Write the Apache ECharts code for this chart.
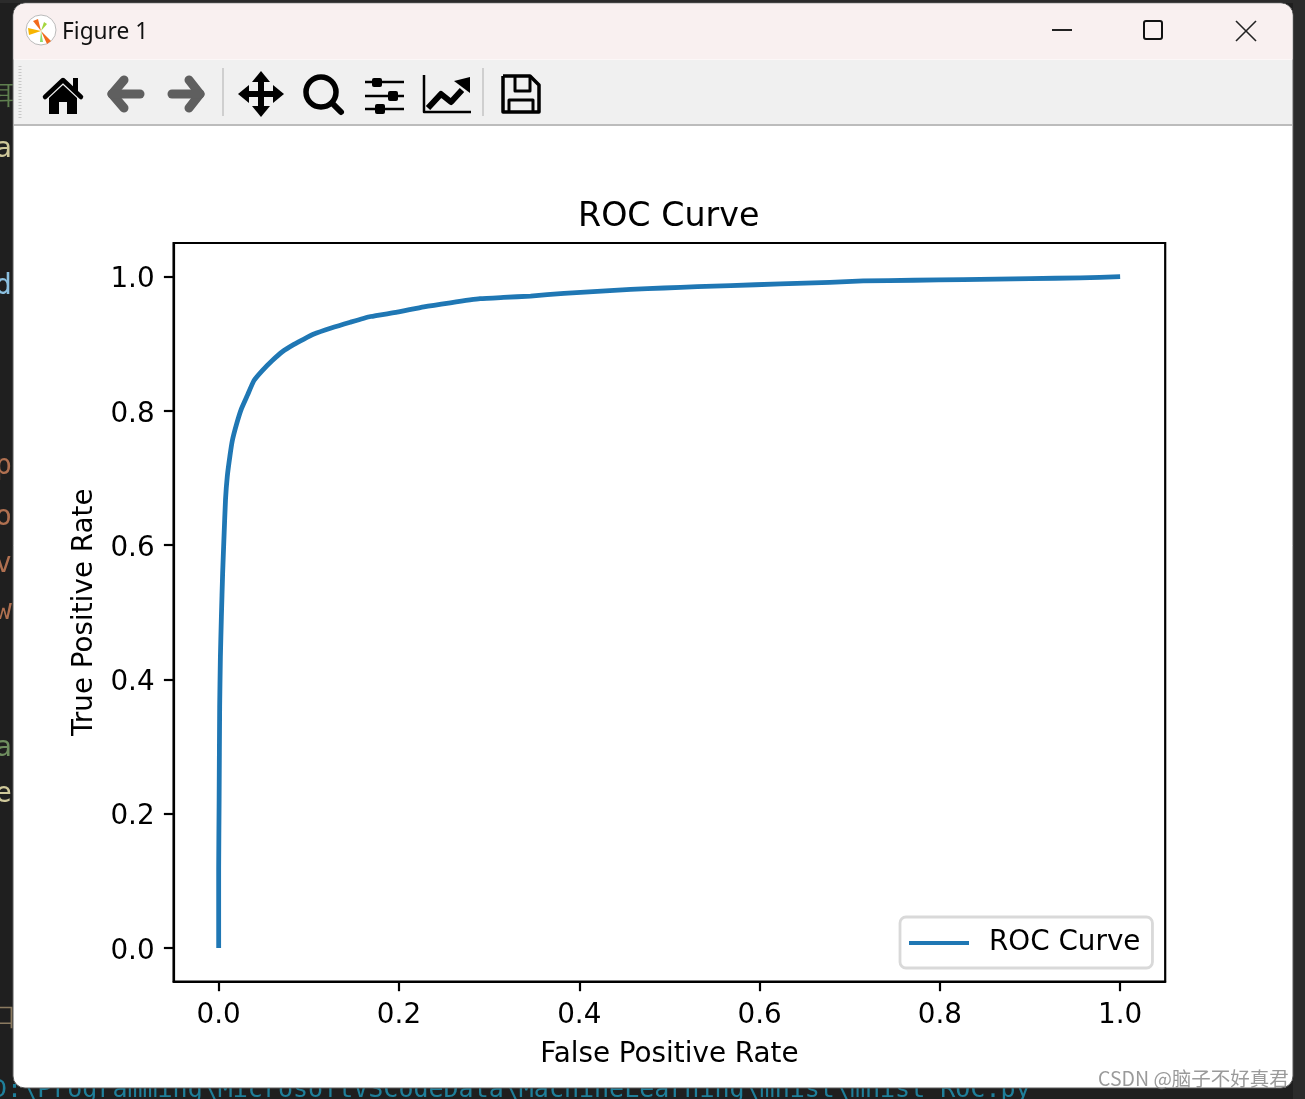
<!DOCTYPE html>
<html>
<head>
<meta charset="UTF-8">
<title>ROC Curve</title>
<script src="https://cdn.jsdelivr.net/npm/echarts@6/dist/echarts.min.js"></script>
</head>
<body style="margin:0;background:#1f1f1f">
<div id="one" style="width:1305px;height:1099px"></div>
<script>
var fpr = [0, 0, 0.0005, 0.0011, 0.0019, 0.003, 0.0044, 0.0059, 0.0076, 0.0096, 0.0125, 0.0152, 0.020, 0.0252, 0.0318, 0.0391, 0.0484, 0.0595, 0.0706, 0.0835, 0.0946, 0.105, 0.124, 0.146, 0.1685, 0.198, 0.2276, 0.257, 0.29, 0.316, 0.346, 0.383, 0.42, 0.457, 0.494, 0.531, 0.568, 0.623, 0.678, 0.715, 0.771, 0.826, 0.90, 0.956, 1.0];
var tpr = [0, 0.12, 0.22, 0.359, 0.433, 0.493, 0.558, 0.612, 0.668, 0.703, 0.733, 0.756, 0.781, 0.803, 0.823, 0.845, 0.860, 0.875, 0.888, 0.899, 0.907, 0.914, 0.923, 0.932, 0.9405, 0.947, 0.955, 0.961, 0.967, 0.969, 0.971, 0.975, 0.978, 0.981, 0.983, 0.985, 0.9866, 0.989, 0.9915, 0.9935, 0.9945, 0.9955, 0.997, 0.998, 1.0];
var xTicks = [0, 0.2, 0.4, 0.6, 0.8, 1.0];
var yTicks = [0, 0.2, 0.4, 0.6, 0.8, 1.0];
var seriesName = 'ROC Curve';

var font = '"DejaVu Sans"';
var els = [];
function add(type, shape, style) {
	var el = { type: type, z: -10, z2: els.length, silent: true, style: style };
	if (shape) el.shape = shape;
	els.push(el);
}
function text(str, x, y, size, color, fam) {
	add('text', null, { text: str, x: x, y: y, fill: color, font: size + 'px ' + (fam || '"Noto Sans"'), textVerticalAlign: 'middle' });
}
// 把 "M x y L x y H x V y" 拆成折线点
function parse(d) {
	var tok = d.match(/[MLHVZ]|-?[\d.]+/g), lines = [], cur = null, i = 0, x = 0, y = 0;
	while (i < tok.length) {
		var c = tok[i++];
		if (c === 'M') { x = +tok[i++]; y = +tok[i++]; cur = [[x, y]]; lines.push(cur); }
		else if (c === 'L') { x = +tok[i++]; y = +tok[i++]; cur.push([x, y]); }
		else if (c === 'H') { x = +tok[i++]; cur.push([x, y]); }
		else if (c === 'V') { y = +tok[i++]; cur.push([x, y]); }
	}
	return lines;
}
function stroke(d, w, color, cap) {
	parse(d).forEach(function (pts) {
		add('polyline', { points: pts }, { fill: null, stroke: color || '#000', lineWidth: w, lineCap: cap || 'butt', lineJoin: 'round' });
	});
}
function fill(d, color) {
	parse(d).forEach(function (pts) {
		add('polygon', { points: pts }, { fill: color || '#000' });
	});
}
// 窗口后面的编辑器
add('rect', { x: 0, y: 0, width: 1305, height: 1099 }, { fill: '#1f1f1f' });
add('rect', { x: 1293, y: 0, width: 12, height: 1099 }, { fill: '#2b2b2b' });
add('rect', { x: 0, y: 0, width: 1305, height: 3 }, { fill: '#2b2b2b' });
text('D:\\Programming\\MicrosoftVSCodeData\\MachineLearning\\mnist\\mnist_ROC.py', -8, 1090, 25, '#1f7f9a', '"DejaVu Sans Mono"');
text('耳', -9, 97, 26, '#5f7f4f');
text('a', -5, 150, 28, '#cfc89a', '"DejaVu Sans Mono"');
text('d', -5, 287, 28, '#8cc0e0', '"DejaVu Sans Mono"');
text('p', -5, 467, 28, '#b07050', '"DejaVu Sans Mono"');
text('o', -5, 518, 28, '#b07050', '"DejaVu Sans Mono"');
text('v', -5, 565, 28, '#b07050', '"DejaVu Sans Mono"');
text('w', -5, 612, 28, '#b07050', '"DejaVu Sans Mono"');
text('a', -5, 749, 28, '#6f8f5f', '"DejaVu Sans Mono"');
text('e', -5, 795, 28, '#cfc89a', '"DejaVu Sans Mono"');
text('口', -9, 1018, 26, '#8a7a60');
// 窗口
add('rect', { x: 13, y: 3, width: 1280, height: 1085, r: 12 }, { fill: '#fff', stroke: '#5a5a5a', lineWidth: 1 });
add('rect', { x: 13.5, y: 3.5, width: 1279, height: 56, r: [12, 12, 0, 0] }, { fill: '#f9f0f0' });
add('rect', { x: 14, y: 60, width: 1278, height: 64 }, { fill: '#f0f0f0' });
add('rect', { x: 14, y: 124, width: 1278, height: 2 }, { fill: '#bcbcbc' });
// 标题栏
add('circle', { cx: 41, cy: 30, r: 15 }, { fill: '#fff', stroke: '#bbb', lineWidth: 1 });
fill('M41 31 L33 21 L38 19 Z', '#f26a1b');
fill('M41 31 L29 35 L28 28 Z', '#f7b500');
fill('M41 31 L51 41 L47 44 Z', '#f26a1b');
fill('M41 31 L44 22 L47 24 Z', '#a5d63f');
fill('M41 31 L43 42 L40 42 Z', '#8fdc6a');
text('Figure 1', 62, 33, 22.7, '#111');
stroke('M1052 30 H1072', 2, '#222');
add('rect', { x: 1144, y: 21, width: 18, height: 18, r: 2 }, { fill: null, stroke: '#111', lineWidth: 2 });
stroke('M1236 21 L1256 41 M1256 21 L1236 41', 1.6, '#222');
// 工具栏
add('line', { x1: 20, y1: 66, x2: 20, y2: 118 }, { stroke: '#c8c8c8', lineWidth: 3, lineDash: [1, 2] });
add('rect', { x: 222, y: 68, width: 2, height: 48 }, { fill: '#cfcfcf' });
add('rect', { x: 482, y: 68, width: 2, height: 48 }, { fill: '#cfcfcf' });
stroke('M45 97 L63 80 L81 97', 4.5, '#000', 'round');
fill('M73 78 H78 V92 L73 88 Z');
fill('M49 98 L63 85 L77 98 V114 H67 V102 H59 V114 H49 Z');
stroke('M124 80 L112 94 L124 108 M112 94 H140', 9, '#5f5f5f', 'round');
stroke('M189 80 L200 94 L189 108 M172 94 H200', 9, '#5f5f5f', 'round');
stroke('M261 78 V110 M245 94 H277', 6);
fill('M261 71 L270 82 H252 Z');
fill('M261 117 L270 106 H252 Z');
fill('M238 94 L249 85 V103 Z');
fill('M284 94 L273 85 V103 Z');
add('circle', { cx: 321, cy: 92, r: 15 }, { fill: null, stroke: '#000', lineWidth: 5.5 });
stroke('M332 103 L341 112', 6, '#000', 'round');
stroke('M365 82 H404 M365 96 H404 M365 109 H404', 2.5);
add('rect', { x: 372, y: 78, width: 10, height: 9, r: 2 }, { fill: '#000' });
add('rect', { x: 388, y: 91, width: 10, height: 10, r: 2 }, { fill: '#000' });
add('rect', { x: 375, y: 104, width: 10, height: 10, r: 2 }, { fill: '#000' });
stroke('M424 75 V112 H471', 2.5);
stroke('M428 108 L441 94 L451 102 L462 90', 6);
fill('M470 77 V93 L454 81 Z');
stroke('M503 76 H530 L539 85 V112 H503 V76', 3.5);
stroke('M515 77 V91 H530 V77', 3);
stroke('M509 112 V100 H533 V112', 3);
// 水印
add('text', null, { text: 'CSDN @脑子不好真君', x: 1098, y: 1079, fill: 'rgba(120,120,120,0.75)', font: '19.5px "Noto Sans CJK SC"', textVerticalAlign: 'middle' });

var myChart = echarts.init(document.getElementById('one'));
var points = [];
for (var i = 0; i < fpr.length; i++) points.push([fpr[i], tpr[i]]);

function axis(ticks, name, gap, margin, labelPad) {
	return {
		type: 'value',
		min: -0.05,
		max: 1.05,
		interval: 0.05,
		name: name,
		nameLocation: 'middle',
		nameGap: gap,
		nameTextStyle: { color: '#000', fontSize: 27.8, fontFamily: font },
		splitLine: { show: false },
		axisLine: { show: true, onZero: false, lineStyle: { color: '#000', width: 2.2 } },
		axisTick: { show: true, customValues: ticks, length: 9.7, lineStyle: { color: '#000', width: 2.2 } },
		axisLabel: {
			show: true,
			customValues: ticks,
			margin: margin,
			color: '#000',
			fontSize: 27.8,
			fontFamily: font,
			formatter: function (v) { return '{t|' + v.toFixed(1) + '}'; },
			rich: { t: { color: '#000', fontSize: 27.8, fontFamily: font, padding: labelPad } }
		}
	};
}

var option = {
	animation: false,
	backgroundColor: 'transparent',
	title: {
		text: seriesName,
		left: 578,
		top: 201,
		padding: 0,
		textStyle: { color: '#000', fontSize: 33.3, fontWeight: 'normal', fontFamily: font }
	},
	legend: {
		left: 900,
		top: 917,
		padding: [12, 12, 11, 9],
		itemWidth: 60,
		itemHeight: 4.2,
		icon: 'rect',
		borderColor: '#d9d9d9',
		borderWidth: 2.8,
		borderRadius: 6,
		backgroundColor: '#fff',
		textStyle: { color: '#000', fontSize: 27.8, fontFamily: font, padding: [0, 0, 0, 15] },
		data: [seriesName]
	},
	grid: {
		show: true,
		left: 173.6,
		top: 243,
		width: 991.6,
		height: 738.5,
		borderColor: '#000',
		borderWidth: 2.2,
		backgroundColor: '#fff'
	},
	xAxis: axis(xTicks, 'False Positive Rate', 59, 20, 0),
	yAxis: axis(yTicks, 'True Positive Rate', 75, 19, [7, 0, 0, 0]),
	series: [{
		name: seriesName,
		type: 'line',
		symbol: 'none',
		smooth: 0.15,
		data: points,
		color: '#1f77b4',
		lineStyle: { width: 4.8, color: '#1f77b4', join: 'round' }
	}],
	graphic: { elements: els }
};
myChart.setOption(option);
</script>
</body>
</html>
